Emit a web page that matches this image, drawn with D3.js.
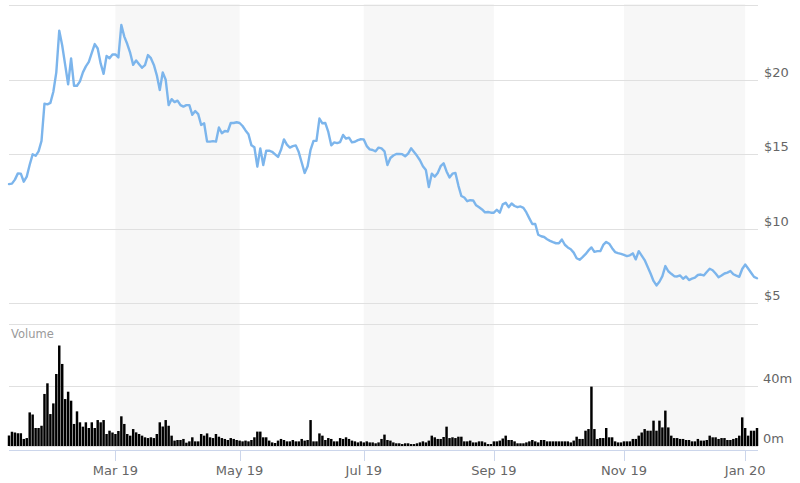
<!DOCTYPE html>
<html>
<head>
<meta charset="utf-8">
<script src="https://cdn.jsdelivr.net/npm/d3@7"></script>
<style>
  html, body { margin: 0; padding: 0; background: #fff; }
  svg { display: block; font-family: "DejaVu Sans", Verdana, sans-serif; }
</style>
</head>
<body>
<svg id="chart" width="800" height="483"></svg>
<script>
// ---------- DATA ----------
const startDate = "2019-01-08";
const endDate = "2020-01-08";
const holidays = ["2019-01-21","2019-02-18","2019-04-19","2019-05-27","2019-07-04","2019-11-28","2019-12-25","2020-01-01"];

const price = [
  13.0, 13.03, 13.3, 13.72, 13.7, 13.16, 13.5, 14.3, 15.0, 14.9,
  15.2, 15.9, 18.4, 18.35, 18.45, 19.2, 20.5, 23.3, 22.3, 21.0,
  19.7, 21.44, 19.6, 19.6, 19.9, 20.5, 20.9, 21.2, 21.8, 22.4,
  22.1, 21.1, 20.4, 21.6, 21.45, 21.7, 21.7, 21.5, 23.68, 22.9,
  22.4, 21.8, 21.0, 21.3, 21.05, 20.81, 20.99, 21.66, 21.45, 21.0,
  20.3, 19.32, 20.5, 20.0, 18.3, 18.7, 18.5, 18.6, 18.3, 18.2,
  18.3, 18.3, 17.65, 17.9, 17.7, 16.97, 17.08, 15.85, 15.85, 15.88,
  15.85, 16.8, 16.41, 16.56, 16.53, 17.1, 17.1, 17.15, 17.1, 16.9,
  16.6, 16.35, 15.6, 15.47, 14.17, 15.4, 14.28, 15.24, 15.24, 15.17,
  15.0, 14.82, 15.3, 16.0, 15.65, 15.45, 15.55, 15.6, 15.15, 14.45,
  13.75, 14.2, 15.3, 15.9, 15.9, 17.4, 17.08, 17.1, 16.5, 15.6,
  15.8, 15.75, 15.82, 16.3, 16.05, 16.12, 15.8, 15.84, 15.95, 16.01,
  16.0, 15.55, 15.33, 15.29, 15.2, 15.45, 15.4, 15.2, 14.28, 14.75,
  14.92, 15.02, 15.02, 15.01, 14.87, 15.05, 15.4, 15.15, 14.9, 14.6,
  14.2, 13.95, 12.8, 13.7, 13.5, 13.75, 14.2, 14.4, 13.85, 13.45,
  13.7, 13.75, 12.9, 12.2, 12.1, 11.85, 11.92, 11.9, 11.58, 11.45,
  11.3, 11.1, 11.13, 11.08, 11.08, 11.28, 11.08, 11.64, 11.75, 11.45,
  11.7, 11.53, 11.45, 11.5, 11.4, 11.1, 10.7, 10.32, 10.32, 9.6,
  9.5, 9.45, 9.3, 9.19, 9.1, 9.03, 9.03, 9.28, 8.93, 8.75,
  8.63, 8.4, 8.02, 7.92, 8.1, 8.3, 8.55, 8.75, 8.45, 8.5,
  8.5, 8.92, 9.12, 9.0, 8.7, 8.44, 8.37, 8.32, 8.25, 8.17,
  8.22, 8.35, 7.95, 8.5, 8.2, 7.9, 7.45, 7.0, 6.5, 6.2,
  6.45, 6.82, 7.5, 7.15, 6.98, 6.82, 6.8, 6.87, 6.65, 6.8,
  6.56, 6.65, 6.72, 6.9, 6.93, 6.87, 7.1, 7.32, 7.22, 7.0,
  6.75, 6.87, 7.0, 7.06, 7.17, 6.95, 6.86, 6.78, 7.3, 7.6,
  7.33, 7.05, 6.77, 6.68
];

// volume in millions
const volume = [
  7, 9.5, 9, 8.5, 8.5, 4.7, 5.3, 22.4, 21, 12,
  12, 13.5, 34.7, 41.8, 21.3, 28.4, 48, 67, 54.7, 31.3,
  36.2, 30.2, 14.7, 23.1, 15.8, 12.9, 15.8, 12, 15.8, 12,
  17.3, 15.8, 17.3, 8, 10.2, 9, 8, 10, 19.8, 14.7,
  8, 6.9, 11.3, 9.1, 8, 6.9, 5.8, 5.3, 5.8, 5.3,
  8, 15.8, 13, 17.3, 13.5, 6.9, 3.6, 4, 4, 4.7,
  2.2, 3.1, 5.8, 3.1, 3.1, 8, 6.9, 8.4, 5.8, 5.3,
  8, 6.2, 5.3, 4.7, 4, 5.3, 4.7, 4, 3.6, 3.1,
  3.6, 3.1, 4, 5.8, 9.6, 9.6, 5.8, 5.8, 3.6, 2.4,
  2, 3.6, 4.7, 4, 3.1, 3.1, 4, 3.1, 3.1, 4.7,
  3.6, 4, 17.3, 3.1, 3.1, 8.4, 6.9, 4, 5.3, 4.7,
  3.1, 3.1, 5.3, 4.7, 5.8, 4.7, 3.6, 3.1, 2.4, 3.1,
  2.4, 3.1, 2.4, 2.4, 1.8, 2.4, 4.7, 7.6, 4, 3.6,
  2.4, 1.8, 1.8, 1.3, 1.8, 1.8, 1.3, 1.3, 1.8, 2.4,
  3.1, 2.4, 3.6, 6.9, 5.8, 4.7, 4.7, 6, 12.9, 5.3,
  5.8, 5.3, 6.2, 6.2, 3.1, 3.1, 3.6, 2.4, 2.4, 3.1,
  3.1, 2.4, 1.3, 1.3, 3.1, 3.1, 3.6, 5, 6.9, 4,
  4, 3.1, 1.8, 1.8, 1.8, 2.4, 3.1, 4, 3.1, 2.4,
  4, 4, 3.1, 3.1, 3.1, 3.1, 3.1, 3.1, 3.1, 3.1,
  2.4, 3.6, 6.2, 4.7, 4.7, 10.2, 11.3, 39.6, 11.3, 4.7,
  5.3, 5.3, 12, 5.8, 5.8, 3.1, 2.4, 2.4, 3.1, 3.1,
  3.1, 4.7, 4.7, 6.9, 9, 11.3, 10.2, 10.2, 16.9, 10.2,
  16.9, 12.4, 23.6, 12.4, 6.9, 5.3, 5.3, 4.7, 4.7, 4,
  4, 3.1, 3.1, 4.7, 3.6, 3.6, 4, 6.9, 5.8, 5.8,
  4.7, 5.3, 5.3, 4, 4, 4.7, 5.3, 6.9, 19.1, 12,
  6.9, 10.2, 10.2, 12
];

const tickDates = ["2019-03-01","2019-05-01","2019-07-01","2019-09-02","2019-11-01","2020-01-02"];
const tickLabels = ["Mar 19","May 19","Jul 19","Sep 19","Nov 19","Jan 20"];
const priceTicks = [5, 10, 15, 20, 25];
const priceTickLabels = ["$5", "$10", "$15", "$20", ""];
const volTicks = [0, 40];
const volTickLabels = ["0m", "40m"];
const bandPairs = [[0,1],[2,3],[4,5]];

// ---------- DATES (trading days) ----------
const parse = d3.utcParse("%Y-%m-%d");
const fmt = d3.utcFormat("%Y-%m-%d");
const holidaySet = new Set(holidays);
const dates = d3.utcDays(parse(startDate), d3.utcDay.offset(parse(endDate), 1))
  .filter(d => d.getUTCDay() !== 0 && d.getUTCDay() !== 6 && !holidaySet.has(fmt(d)));
const n = price.length;
const idxOf = s => dates.findIndex(d => fmt(d) === s);

// ---------- LAYOUT ----------
const svg = d3.select("#chart");
const left = 9, right = 757, gridRight = 758;
const x = d3.scaleLinear().domain([0, n - 1]).range([left, right]);
const yP = d3.scaleLinear().domain([5, 25]).range([303.3, 5.3]);
const yV = d3.scaleLinear().domain([0, 40]).range([446, 386]);
const volTop = 324, axisY = 450;
const crisp = v => Math.round(v) + 0.5;

const tickIdx = tickDates.map(idxOf);

// bands
svg.append("g").selectAll("rect").data(bandPairs).join("rect")
  .attr("x", p => x(tickIdx[p[0]]))
  .attr("width", p => x(tickIdx[p[1]]) - x(tickIdx[p[0]]))
  .attr("y", 4).attr("height", axisY - 4)
  .attr("fill", "#f7f7f7");

const gridColor = "#e0e0e0";
svg.append("g").selectAll("line").data(priceTicks).join("line")
  .attr("x1", left).attr("x2", gridRight)
  .attr("y1", d => crisp(yP(d))).attr("y2", d => crisp(yP(d)))
  .attr("stroke", gridColor).attr("stroke-width", 1);

svg.append("g").selectAll("line").data(volTicks).join("line")
  .attr("x1", left).attr("x2", gridRight)
  .attr("y1", d => crisp(yV(d))).attr("y2", d => crisp(yV(d)))
  .attr("stroke", gridColor).attr("stroke-width", 1);
svg.append("line").attr("x1", left).attr("x2", gridRight)
  .attr("y1", volTop + 0.5).attr("y2", volTop + 0.5)
  .attr("stroke", gridColor);

const labelColor = "#666666";
svg.append("g").selectAll("text").data(priceTicks).join("text")
  .attr("x", 764).attr("y", d => yP(d) - 3)
  .attr("font-size", 13).attr("fill", labelColor)
  .text((d, i) => priceTickLabels[i]);
svg.append("g").selectAll("text").data(volTicks).join("text")
  .attr("x", 763).attr("y", d => yV(d) - 3.5)
  .attr("font-size", 13).attr("fill", labelColor)
  .text((d, i) => volTickLabels[i]);

svg.append("text").attr("x", 11).attr("y", 338)
  .attr("font-size", 11.5).attr("fill", "#9a9a9a").text("Volume");

// volume bars
const step = x(1) - x(0);
svg.append("g").selectAll("rect").data(volume).join("rect")
  .attr("x", (d, i) => x(i) - step / 2 + 0.25)
  .attr("width", step - 0.5)
  .attr("y", d => yV(d))
  .attr("height", d => yV(0) - yV(d))
  .attr("fill", "#000");

// price line
const line = d3.line().x((d, i) => x(i)).y(d => yP(d));
svg.append("path").datum(price)
  .attr("d", line).attr("fill", "none")
  .attr("stroke", "#7cb5ec").attr("stroke-width", 2.4)
  .attr("stroke-linejoin", "round").attr("stroke-linecap", "round");

// x axis
svg.append("line").attr("x1", left).attr("x2", gridRight)
  .attr("y1", axisY + 0.5).attr("y2", axisY + 0.5)
  .attr("stroke", "#ccd6eb");
const tg = svg.append("g").selectAll("g").data(tickIdx).join("g");
tg.append("line")
  .attr("x1", d => crisp(x(d))).attr("x2", d => crisp(x(d)))
  .attr("y1", axisY).attr("y2", axisY + 11)
  .attr("stroke", "#ccd6eb");
tg.append("text")
  .attr("x", d => x(d)).attr("y", 475)
  .attr("text-anchor", "middle").attr("font-size", 13).attr("fill", labelColor)
  .text((d, i) => tickLabels[i]);
</script>
</body>
</html>
